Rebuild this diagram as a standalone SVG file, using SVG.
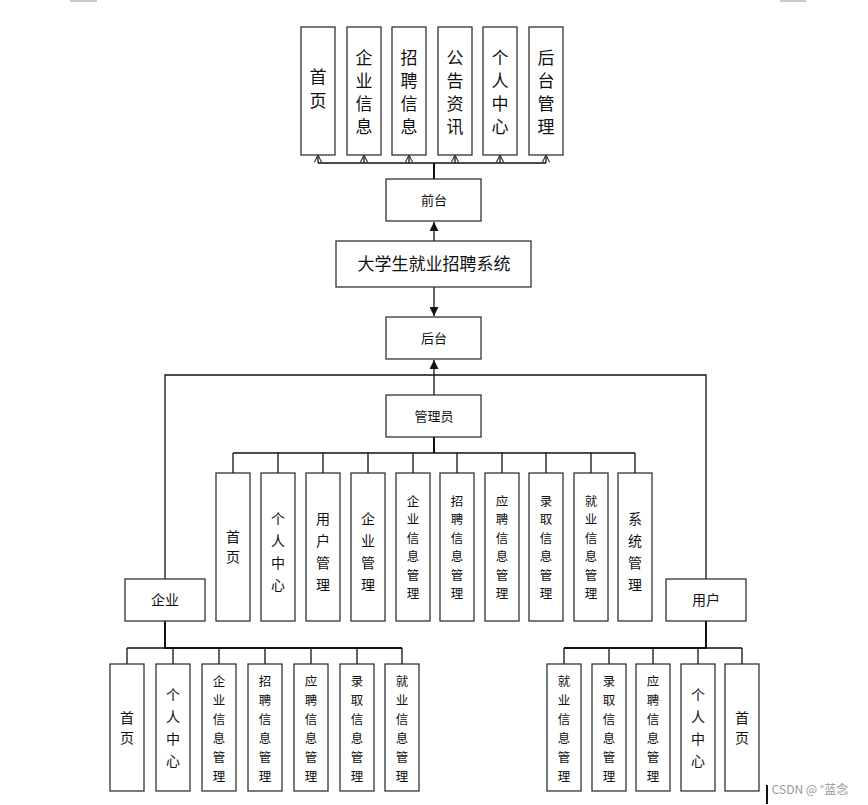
<svg xmlns="http://www.w3.org/2000/svg" width="868" height="805" viewBox="0 0 868 805">
<style>
rect{fill:#fff;stroke:#333;stroke-width:1.3}
.l{stroke:#111;stroke-width:1.3;fill:none}
.b{stroke:#111;stroke-width:2;fill:none}
text{font-family:"Noto Sans CJK SC","Liberation Sans",sans-serif;fill:#111;text-anchor:middle}
.t{font-size:17px}.m{font-size:14px}.s{font-size:13px}.k text{font-size:12.5px}
</style>
<defs>
<marker id="f" viewBox="0 0 10 10" refX="10" refY="5" markerWidth="9" markerHeight="9" markerUnits="userSpaceOnUse" orient="auto"><path d="M0,0L10,5L0,10z" fill="#111"/></marker>
<marker id="o" viewBox="0 0 10 10" refX="10" refY="5" markerWidth="8" markerHeight="8" markerUnits="userSpaceOnUse" orient="auto"><path d="M1,0.5L10,5L1,9.5" fill="none" stroke="#333" stroke-width="1.4"/></marker>
</defs>
<rect x="0" y="0" width="868" height="805" style="fill:#fff;stroke:none"/>
<path d="M70 1H97M780 1H806" stroke="#bbb" stroke-width="1.5"/>
<g id="connectors">
<path class="b" d="M434 179V163"/>
<path class="l" d="M318 163H546"/>
<path class="l" marker-end="url(#o)" d="M318 163V155"/>
<path class="l" marker-end="url(#o)" d="M364 163V155"/>
<path class="l" marker-end="url(#o)" d="M409 163V155"/>
<path class="l" marker-end="url(#o)" d="M455 163V155"/>
<path class="l" marker-end="url(#o)" d="M500 163V155"/>
<path class="l" marker-end="url(#o)" d="M546 163V155"/>
<path class="l" marker-end="url(#f)" d="M434 241V222"/>
<path class="l" marker-end="url(#f)" d="M434 287V316"/>
<path class="l" marker-end="url(#f)" d="M434 395V360"/>
<path class="l" d="M165 579V375H706V579"/>
<path class="b" d="M434 437V453"/>
<path class="l" d="M233 453H635M233 453V473M278 453V473M323 453V473M368 453V473M413 453V473M457 453V473M502 453V473M546 453V473M591 453V473M635 453V473"/>
<path class="b" d="M165 621V648H402"/>
<path class="l" d="M127 648H165M127 648V664M173 648V664M219 648V664M265 648V664M311 648V664M357 648V664M402 648V664"/>
<path class="b" d="M706 621V648H564"/>
<path class="l" d="M706 648H742M564 648V664M609 648V664M653 648V664M698 648V664M742 648V664"/>
</g>
<g id="front-items" class="t">
<g id="t1"><rect x="301" y="27" width="34" height="128"/><text x="318" y="83">首</text><text x="318" y="107">页</text></g>
<g id="t2"><rect x="347" y="27" width="34" height="128"/><text x="364" y="64">企</text><text x="364" y="87">业</text><text x="364" y="110">信</text><text x="364" y="133">息</text></g>
<g id="t3"><rect x="392" y="27" width="34" height="128"/><text x="409" y="64">招</text><text x="409" y="87">聘</text><text x="409" y="110">信</text><text x="409" y="133">息</text></g>
<g id="t4"><rect x="438" y="27" width="34" height="128"/><text x="455" y="64">公</text><text x="455" y="87">告</text><text x="455" y="110">资</text><text x="455" y="133">讯</text></g>
<g id="t5"><rect x="483" y="27" width="34" height="128"/><text x="500" y="64">个</text><text x="500" y="87">人</text><text x="500" y="110">中</text><text x="500" y="133">心</text></g>
<g id="t6"><rect x="529" y="27" width="34" height="128"/><text x="546" y="64">后</text><text x="546" y="87">台</text><text x="546" y="110">管</text><text x="546" y="133">理</text></g>
</g>
<g id="qiantai"><rect x="386" y="179" width="95" height="42"/><text class="s" x="434" y="205">前台</text></g>
<g id="sys"><rect x="336" y="241" width="195" height="46"/><text class="t" x="434" y="270">大学生就业招聘系统</text></g>
<g id="houtai"><rect x="386" y="317" width="95" height="42"/><text class="s" x="434" y="343">后台</text></g>
<g id="admin"><rect x="386" y="395" width="95" height="42"/><text class="s" x="434" y="421">管理员</text></g>
<g id="qiye"><rect x="125" y="579" width="80" height="42"/><text class="m" x="165" y="605">企业</text></g>
<g id="yonghu"><rect x="666" y="579" width="80" height="42"/><text class="m" x="706" y="605">用户</text></g>
<g id="admin-items" class="m">
<rect x="216" y="473" width="34" height="148"/><text x="233" y="542">首</text><text x="233" y="562">页</text>
<rect x="261" y="473" width="34" height="148"/><text x="278" y="524">个</text><text x="278" y="546">人</text><text x="278" y="568">中</text><text x="278" y="590">心</text>
<rect x="306" y="473" width="34" height="148"/><text x="323" y="524">用</text><text x="323" y="546">户</text><text x="323" y="568">管</text><text x="323" y="590">理</text>
<rect x="351" y="473" width="34" height="148"/><text x="368" y="524">企</text><text x="368" y="546">业</text><text x="368" y="568">管</text><text x="368" y="590">理</text>
<g class="k">
<rect x="396" y="473" width="34" height="148"/><text x="413" y="506">企</text><text x="413" y="524">业</text><text x="413" y="543">信</text><text x="413" y="561">息</text><text x="413" y="580">管</text><text x="413" y="598">理</text>
<rect x="440" y="473" width="34" height="148"/><text x="457" y="506">招</text><text x="457" y="524">聘</text><text x="457" y="543">信</text><text x="457" y="561">息</text><text x="457" y="580">管</text><text x="457" y="598">理</text>
<rect x="485" y="473" width="34" height="148"/><text x="502" y="506">应</text><text x="502" y="524">聘</text><text x="502" y="543">信</text><text x="502" y="561">息</text><text x="502" y="580">管</text><text x="502" y="598">理</text>
<rect x="529" y="473" width="34" height="148"/><text x="546" y="506">录</text><text x="546" y="524">取</text><text x="546" y="543">信</text><text x="546" y="561">息</text><text x="546" y="580">管</text><text x="546" y="598">理</text>
<rect x="574" y="473" width="34" height="148"/><text x="591" y="506">就</text><text x="591" y="524">业</text><text x="591" y="543">信</text><text x="591" y="561">息</text><text x="591" y="580">管</text><text x="591" y="598">理</text>
</g>
<rect x="618" y="473" width="34" height="148"/><text x="635" y="524">系</text><text x="635" y="546">统</text><text x="635" y="568">管</text><text x="635" y="590">理</text>
</g>
<g id="qiye-items" class="m">
<rect x="110" y="664" width="34" height="127"/><text x="127" y="723">首</text><text x="127" y="743">页</text>
<rect x="156" y="664" width="34" height="127"/><text x="173" y="700">个</text><text x="173" y="722">人</text><text x="173" y="744">中</text><text x="173" y="766">心</text>
<g class="k">
<rect x="202" y="664" width="34" height="127"/><text x="219" y="686">企</text><text x="219" y="705">业</text><text x="219" y="724">信</text><text x="219" y="743">息</text><text x="219" y="762">管</text><text x="219" y="781">理</text>
<rect x="248" y="664" width="34" height="127"/><text x="265" y="686">招</text><text x="265" y="705">聘</text><text x="265" y="724">信</text><text x="265" y="743">息</text><text x="265" y="762">管</text><text x="265" y="781">理</text>
<rect x="294" y="664" width="34" height="127"/><text x="311" y="686">应</text><text x="311" y="705">聘</text><text x="311" y="724">信</text><text x="311" y="743">息</text><text x="311" y="762">管</text><text x="311" y="781">理</text>
<rect x="340" y="664" width="34" height="127"/><text x="357" y="686">录</text><text x="357" y="705">取</text><text x="357" y="724">信</text><text x="357" y="743">息</text><text x="357" y="762">管</text><text x="357" y="781">理</text>
<rect x="385" y="664" width="34" height="127"/><text x="402" y="686">就</text><text x="402" y="705">业</text><text x="402" y="724">信</text><text x="402" y="743">息</text><text x="402" y="762">管</text><text x="402" y="781">理</text>
</g>
</g>
<g id="user-items" class="m">
<g class="k">
<rect x="547" y="664" width="34" height="127"/><text x="564" y="686">就</text><text x="564" y="705">业</text><text x="564" y="724">信</text><text x="564" y="743">息</text><text x="564" y="762">管</text><text x="564" y="781">理</text>
<rect x="592" y="664" width="34" height="127"/><text x="609" y="686">录</text><text x="609" y="705">取</text><text x="609" y="724">信</text><text x="609" y="743">息</text><text x="609" y="762">管</text><text x="609" y="781">理</text>
<rect x="636" y="664" width="34" height="127"/><text x="653" y="686">应</text><text x="653" y="705">聘</text><text x="653" y="724">信</text><text x="653" y="743">息</text><text x="653" y="762">管</text><text x="653" y="781">理</text>
</g>
<rect x="681" y="664" width="34" height="127"/><text x="698" y="700">个</text><text x="698" y="722">人</text><text x="698" y="744">中</text><text x="698" y="766">心</text>
<rect x="725" y="664" width="34" height="127"/><text x="742" y="723">首</text><text x="742" y="743">页</text>
</g>
<path d="M767 785V804" stroke="#111" stroke-width="2"/>
<text x="810" y="794" style="font-size:12px;fill:#999">CSDN @ °蓝念</text>
</svg>
